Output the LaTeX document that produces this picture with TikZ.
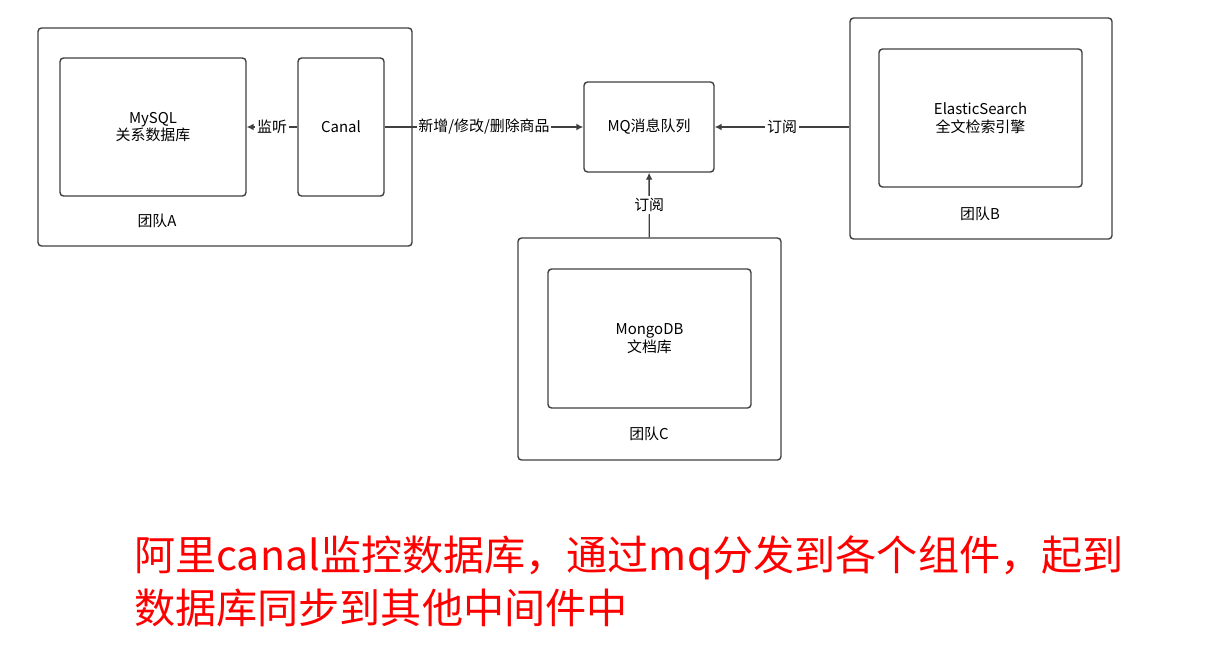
\documentclass[tikz,border=0pt]{standalone}
\usepackage{fontspec}
\setmainfont{Noto Sans CJK SC}
\usetikzlibrary{arrows.meta}
\begin{document}
\begin{tikzpicture}[x=0.02cm,y=-0.02cm]
\tikzset{box/.style={draw=black!75,rounded corners=2pt,thick},
  lbl/.style={font=\fontsize{8.5}{10}\selectfont,fill=white,inner sep=1pt,align=center},
  conn/.style={thick,draw=black!75,-{Latex[length=4pt,width=4pt]}}}
\useasboundingbox (0,0) rectangle (1222,647);
% Team A
\draw[box] (38,28) rectangle (412,246);
\node[box,minimum width=186*0.02cm,minimum height=138*0.02cm,lbl] (mysql) at (153,127) {MySQL\\关系数据库};
\node[box,minimum width=86*0.02cm,minimum height=138*0.02cm,lbl] (canal) at (341,127) {Canal};
\node[lbl] (ta) at (157,221) {团队A};
% MQ
\node[box,minimum width=130*0.02cm,minimum height=90*0.02cm,lbl] (mq) at (649,127) {MQ消息队列};
% Team B
\node[box,minimum width=262*0.02cm,minimum height=221*0.02cm] (teamb) at (981,128.5) {};
\node[box,minimum width=203*0.02cm,minimum height=138*0.02cm,lbl] (es) at (980.5,118) {ElasticSearch\\全文检索引擎};
\node[lbl] (tb) at (980,214) {团队B};
% Team C
\node[box,minimum width=263*0.02cm,minimum height=222*0.02cm] (teamc) at (649.5,349) {};
\node[box,minimum width=203*0.02cm,minimum height=139*0.02cm,lbl] (mongo) at (649.5,338.5) {MongoDB\\文档库};
\node[lbl] (tc) at (649,434) {团队C};
% connectors
\draw[conn] (canal) -- node[lbl] {监听} (mysql);
\draw[conn] (canal) -- node[lbl] {新增/修改/删除商品} (mq);
\draw[conn] (teamb.west |- mq) -- node[lbl] {订阅} (mq);
\draw[conn] (teamc) -- node[lbl] {订阅} (mq);
% note
\node[anchor=west,text=red,font=\fontsize{23.4}{30}\selectfont,align=left] (note) at (128,581) {阿里canal监控数据库，通过mq分发到各个组件，起到\\数据库同步到其他中间件中};
\end{tikzpicture}
\end{document}
